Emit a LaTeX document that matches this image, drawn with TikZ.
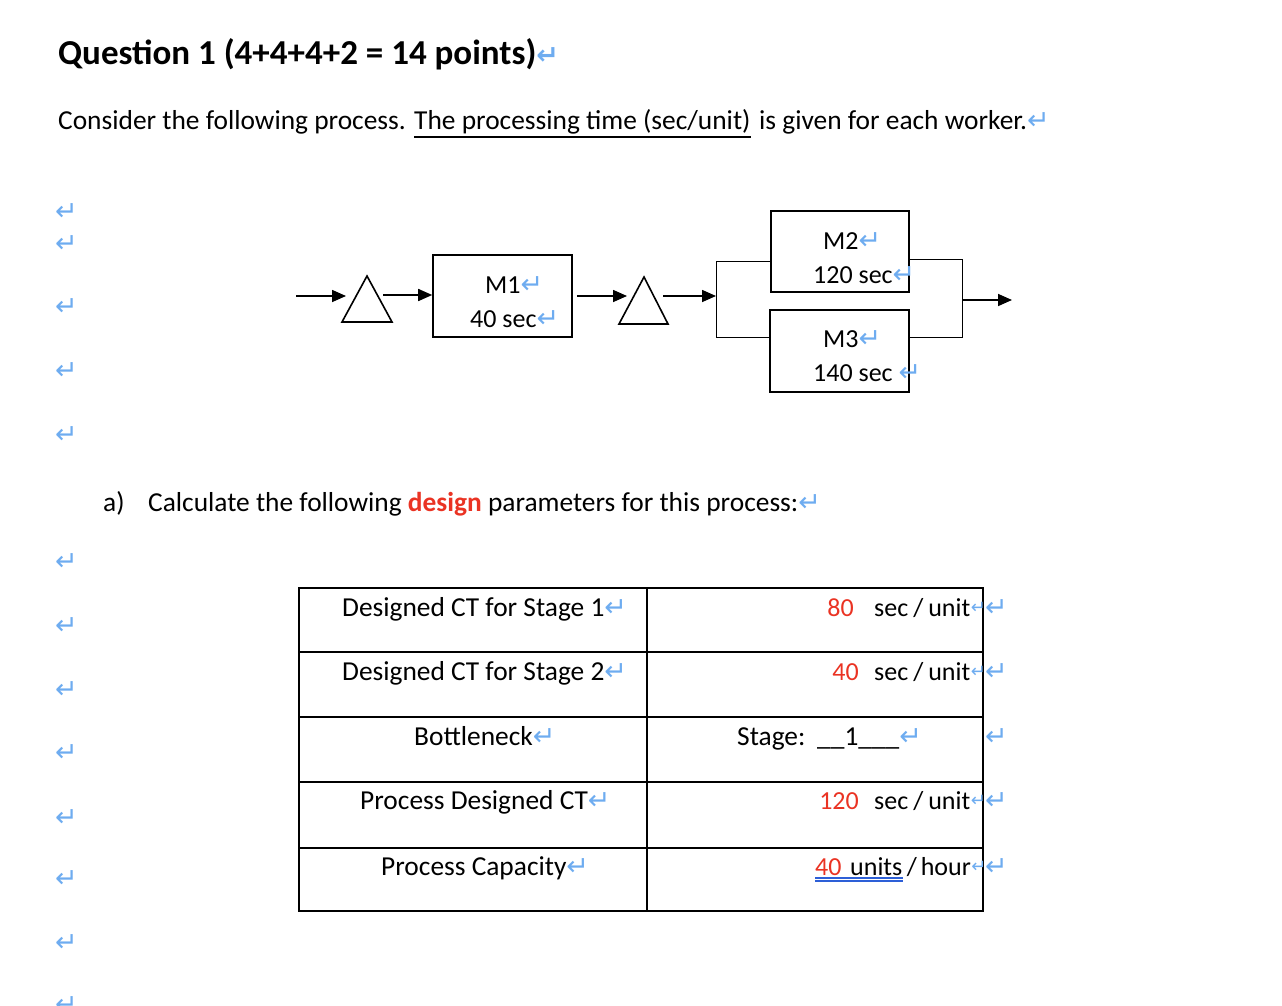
\documentclass[tikz,border=0pt]{standalone}
\usepackage{fontspec}
\setmainfont{Carlito}
\newfontfamily\dejavu{DejaVu Sans}
\usetikzlibrary{arrows.meta}
\definecolor{pmblue}{RGB}{110,172,240}
\definecolor{qred}{RGB}{234,51,35}
\definecolor{ulblue}{RGB}{45,95,215}
\newcommand\parmark{{\color{pmblue}\dejavu\fontsize{27}{27}\selectfont ↵}}
\begin{document}
\begin{tikzpicture}[x=1pt,y=-1pt,
  txt/.style={anchor=base west, inner sep=0pt, font=\fontsize{27.4}{30}\selectfont},
  rtxt/.style={anchor=base west, inner sep=0pt, font=\fontsize{26}{30}\selectfont},
  dtxt/.style={anchor=base west, inner sep=0pt, font=\fontsize{26}{30}\selectfont},
  box/.style={draw, line width=1.6pt, minimum width=139pt, minimum height=82pt, inner sep=0pt},
  arr/.style={line width=1.6pt, -{Triangle[length=14pt,width=12pt]}},
  fork/.style={line width=1pt},
  tri/.style={line width=1.6pt, line join=miter},
  grid/.style={line width=1.8pt},
  pmk/.style={anchor=base west, inner sep=0pt, text=pmblue, font=\dejavu\fontsize{27}{27}\selectfont}
]
\useasboundingbox (0,0) rectangle (1282,1006);

% heading
\node[txt, font=\fontsize{35}{40}\selectfont\bfseries] (title) at (58,65) {Question 1 (4+4+4+2 = 14 points)\parmark};
\node[txt] (intro1) at (58,130) {Consider the following process.};
\node[txt] (intro2) at (414,130) {The processing time (sec/unit)};
\node[txt] (intro3) at (759,130) {is given for each worker.\parmark};
\draw[line width=1.5pt] ([yshift=-7pt]intro2.base west) -- ([yshift=-7pt]intro2.base east);

% left margin paragraph marks
\foreach \y [count=\i] in {220,252,315,379,443,570,634,698,761,826,887,951,1013}
  \node[pmk] (lm\i) at (55,\y) {↵};

% process diagram
\coordinate (src) at (296,296);
\coordinate (t1in) at (346,296);
\coordinate (t1a) at (367,276);
\coordinate (t1l) at (342,322);
\coordinate (t1r) at (392,322);
\coordinate (t1out) at (383,295);
\draw[tri] (t1l) -- (t1a) -- (t1r) -- cycle;

\node[box] (m1) at (502.5,296) {};
\node[dtxt] (m1a) at (485,293) {M1\parmark};
\node[dtxt] (m1b) at (470,327) {40 sec\parmark};

\coordinate (t2in) at (627,296);
\coordinate (t2a) at (644,277);
\coordinate (t2l) at (619,324);
\coordinate (t2r) at (668,324);
\coordinate (t2out) at (663,296);
\draw[tri] (t2l) -- (t2a) -- (t2r) -- cycle;

\node[box, minimum width=138pt, minimum height=81pt] (m2) at (840,251.5) {};
\node[dtxt] (m2a) at (823,249) {M2\parmark};
\node[dtxt] (m2b) at (813,283) {120 sec\parmark};

\node[box] (m3) at (839.5,351) {};
\node[dtxt] (m3a) at (823,347) {M3\parmark};
\node[dtxt] (m3b) at (813,381) {140 sec \parmark};

\coordinate (fin) at (716,296);
\coordinate (fout) at (962,300);
\coordinate (sink) at (1012,300);

\draw[arr] (src) -- (t1in);
\draw[arr] (t1out) -- (m1.west |- t1out);
\draw[arr] (m1.east |- t2in) ++(4,0) -- (t2in);
\draw[arr] (t2out) -- (fin);
\draw[fork] (m2.west |- 0,261) -| (716,337) -- (m3.west |- 0,337);
\draw[fork] (m2.east |- 0,259) -| (962,337) -- (m3.east |- 0,337);
\draw[arr] (fout) -- (sink);

% question a
\node[txt] (qa) at (103,511) {a)};
\node[txt] (qatext) at (148,511) {Calculate the following \textcolor{qred}{\bfseries design} parameters for this process:\parmark};

% table
\draw[grid] (299,588) rectangle (983,911);
\draw[grid] (647,588) -- (647,911);
\foreach \y in {652,717,782,848} \draw[grid] (299,\y) -- (983,\y);

\node[txt] (l1) at (342,616) {Designed CT for Stage 1\parmark};
\node[txt] (l2) at (342,680) {Designed CT for Stage 2\parmark};
\node[txt] (l3) at (414,745) {Bottleneck\parmark};
\node[txt] (l4) at (360,809) {Process Designed CT\parmark};
\node[txt] (l5) at (381,875) {Process Capacity\parmark};

\node[rtxt, anchor=base east, text=qred] (r1n) at (854,616) {80};
\node[rtxt] (r1u) at (874,616) {sec\hspace{5pt}/\hspace{5pt}unit};
\node[rtxt, anchor=base east, text=qred] (r2n) at (859,680) {40};
\node[rtxt] (r2u) at (874,680) {sec\hspace{5pt}/\hspace{5pt}unit};
\node[txt] (r3s) at (737,745) {Stage:};
\node[txt] (r3v) at (817,745) {\_\_1\_\_\_\parmark};
\node[rtxt, anchor=base east, text=qred] (r4n) at (859,809) {120};
\node[rtxt] (r4u) at (874,809) {sec\hspace{5pt}/\hspace{5pt}unit};
\node[rtxt, text=qred] (r5n) at (815,875) {40};
\node[rtxt] (r5u) at (850,875) {units};
\node[rtxt] (r5h) at ([xshift=4pt]r5u.base east) {/\hspace{4pt}hour};
\draw[ulblue, line width=1.2pt] ([yshift=-3pt]r5n.base west) -- ([yshift=-3pt]r5u.base east);
\draw[ulblue, line width=1.2pt] ([yshift=-6pt]r5n.base west) -- ([yshift=-6pt]r5u.base east);

\foreach \n in {r1u,r2u,r4u,r5h}
  \node[pmk, font=\dejavu\fontsize{18}{18}\selectfont] (e\n) at ([yshift=3pt]\n.base east) {↵};
\foreach \y [count=\i] in {616,680,745,809,875}
  \node[pmk] (cm\i) at (985,\y) {↵};
\end{tikzpicture}
\end{document}
